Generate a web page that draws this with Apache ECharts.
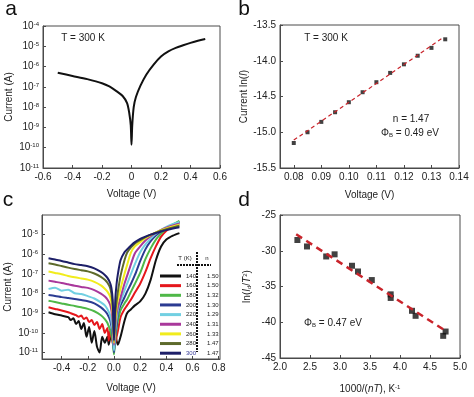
<!DOCTYPE html>
<html>
<head>
<meta charset="utf-8">
<script src="https://cdn.jsdelivr.net/npm/echarts@6/dist/echarts.min.js"></script>
<style>
html, body { margin: 0; padding: 0; background: #fff; }
#box { width: 474px; height: 397px; }
</style>
</head>
<body>
<div id="box"></div>
<script>
// a: I-V at 300 K (current as log10 of A)
const voltA = [-0.5, -0.4, -0.3, -0.2, -0.15, -0.1, -0.06, -0.03, -0.015, -0.005, 0, 0.005, 0.015, 0.03, 0.06, 0.1, 0.15, 0.2, 0.25, 0.3, 0.35, 0.4, 0.45, 0.5]
const logCurrentA = [-6.3, -6.46, -6.62, -6.82, -6.98, -7.22, -7.45, -7.8, -8.3, -8.9, -9.85, -8.9, -8.0, -7.5, -6.95, -6.4, -5.9, -5.5, -5.25, -5.08, -4.95, -4.83, -4.73, -4.64]
const decadesA = [1e-11, 1e-10, 1e-9, 1e-8, 1e-7, 1e-6, 1e-5, 1e-4]

// b: ln(I) vs V, with linear fit
const voltB = [0.08, 0.085, 0.09, 0.095, 0.1, 0.105, 0.11, 0.115, 0.12, 0.125, 0.13, 0.135]
const lnCurrentB = [-15.15, -15.0, -14.855, -14.72, -14.58, -14.44, -14.3, -14.17, -14.05, -13.93, -13.82, -13.7]
const fitB = [[0.08, -15.11], [0.1345, -13.67]]
const ticksXB = [0.08, 0.09, 0.1, 0.11, 0.12, 0.13, 0.14]

// c: I-V at different temperatures
const temps = ['140', '160', '180', '200', '220', '240', '260', '280', '300']
const idealityN = ['1.50', '1.50', '1.32', '1.30', '1.29', '1.31', '1.33', '1.47', '1.47']
const colorsC = ['#111111', '#e5171c', '#4fb848', '#2b3b92', '#72d0e2', '#a9389b', '#f1ec1c', '#5d6a2b', '#1d1f68']
const voltC = [-0.5, -0.45, -0.4, -0.35, -0.3, -0.25, -0.2, -0.15, -0.1, -0.07, -0.05, -0.03, -0.02, -0.01, 0,
  0.01, 0.02, 0.03, 0.05, 0.08, 0.1, 0.13, 0.16, 0.2, 0.24, 0.28, 0.32, 0.36, 0.4, 0.45, 0.5]
const voltNoisy = [-0.5, -0.45, -0.4, -0.35, -0.33, -0.31, -0.29, -0.27, -0.25, -0.23, -0.21, -0.19, -0.17, -0.15, -0.13, -0.11, -0.09, -0.07, -0.05, -0.04, -0.03, -0.02, -0.01, 0,
  0.01, 0.02, 0.03, 0.05, 0.08, 0.1, 0.13, 0.16, 0.2, 0.24, 0.28, 0.32, 0.36, 0.4, 0.45, 0.5]
const log140 = [-8.95, -9.05, -9.12, -9.2, -9.35, -9.25, -9.55, -9.4, -9.8, -9.5, -10.2, -9.7, -10.5, -9.9, -10.7, -11.0, -10.2, -10.5, -10.2, -10.6, -10.3, -10.1, -10.3, -10.1,
  -10.1, -10.4, -10.6, -10.2, -9.4, -9.0, -8.8, -8.6, -8.4, -8.0, -7.3, -6.3, -5.6, -5.25, -5.05, -4.92]
const log160 = [-8.7, -8.78, -8.86, -8.95, -9.0, -9.05, -9.1, -9.18, -9.12, -9.3, -9.22, -9.45, -9.35, -9.6, -9.45, -9.8, -9.55, -10.0, -9.75, -10.4, -9.9, -10.2, -10.5, -10.7,
  -10.5, -10.2, -9.9, -9.2, -8.8, -8.6, -8.3, -7.95, -7.5, -6.9, -6.2, -5.6, -5.1, -4.8, -4.55, -4.35]
const log180 = [-8.36, -8.43, -8.5, -8.57, -8.63, -8.7, -8.78, -8.9, -9.1, -9.3, -9.5, -9.85, -10.1, -10.4, -11.1,
  -10.3, -9.8, -9.4, -8.85, -8.5, -8.3, -7.9, -7.5, -6.95, -6.25, -5.7, -5.25, -4.95, -4.7, -4.48, -4.3]
const log200 = [-8.07, -8.12, -8.18, -8.23, -8.28, -8.33, -8.39, -8.5, -8.7, -8.88, -9.05, -9.35, -9.65, -10.1, -11.0,
  -10.1, -9.6, -9.0, -8.6, -8.2, -7.9, -7.5, -7.05, -6.35, -5.75, -5.33, -5.05, -4.82, -4.65, -4.5, -4.38]
const log220 = [-7.76, -7.7, -7.85, -7.8, -7.98, -8.02, -8.13, -8.25, -8.45, -8.6, -8.8, -9.1, -9.4, -9.9, -10.9,
  -9.9, -9.3, -8.85, -8.4, -7.85, -7.5, -7.0, -6.5, -5.9, -5.5, -5.2, -4.95, -4.75, -4.6, -4.46, -4.35]
const log240 = [-7.34, -7.4, -7.46, -7.53, -7.6, -7.66, -7.71, -7.82, -8.0, -8.15, -8.3, -8.55, -8.85, -9.4, -10.6,
  -9.6, -9.0, -8.7, -8.2, -7.5, -7.1, -6.5, -5.95, -5.6, -5.3, -5.08, -4.9, -4.76, -4.65, -4.53, -4.45]
const log260 = [-6.88, -6.95, -7.02, -7.1, -7.17, -7.23, -7.29, -7.4, -7.58, -7.75, -7.9, -8.15, -8.45, -9.0, -10.5,
  -9.4, -8.7, -8.3, -7.75, -7.0, -6.55, -5.9, -5.6, -5.38, -5.18, -5.02, -4.88, -4.77, -4.68, -4.58, -4.5]
const log280 = [-6.46, -6.52, -6.6, -6.68, -6.75, -6.81, -6.87, -6.98, -7.15, -7.3, -7.45, -7.7, -8.0, -8.6, -10.3,
  -9.0, -8.4, -7.9, -7.1, -6.3, -5.92, -5.65, -5.45, -5.28, -5.13, -5.0, -4.9, -4.8, -4.72, -4.63, -4.55]
const log300 = [-6.2, -6.27, -6.34, -6.42, -6.5, -6.55, -6.61, -6.72, -6.9, -7.05, -7.2, -7.45, -7.7, -8.3, -10.4,
  -8.3, -7.5, -7.0, -6.3, -5.9, -5.75, -5.55, -5.38, -5.22, -5.1, -5.0, -4.92, -4.84, -4.77, -4.69, -4.62]
const curvesC = [[voltNoisy, log140], [voltNoisy, log160], [voltC, log180], [voltC, log200], [voltC, log220],
  [voltC, log240], [voltC, log260], [voltC, log280], [voltC, log300]]
const decadesC = [1e-11, 1e-10, 1e-9, 1e-8, 1e-7, 1e-6, 1e-5]
const ticksXC = [-0.4, -0.2, 0, 0.2, 0.4, 0.6, 0.8]

// d: Richardson plot
const invNT = [2.29, 2.45, 2.77, 2.91, 3.2, 3.3, 3.53, 3.845, 3.845, 4.2, 4.26, 4.72, 4.76]
const lnIT2 = [-28.5, -29.4, -30.8, -30.5, -32.1, -32.9, -34.1, -36.1, -36.6, -38.4, -39.1, -41.9, -41.3]
const fitD = [[2.27, -27.7], [4.74, -41.1]]

const chart = echarts.init(document.getElementById('box'))

const font = 'Liberation Sans'
const frame = '#4a4a4a'
const ink = '#222'
const fitRed = '#c9242b'

const supRich = { s: { fontSize: 6, fontFamily: font, color: ink, verticalAlign: 'top', padding: [0, 0, 4, 0] } }
const nameRich = {
  i: { fontSize: 10, fontFamily: font, color: ink, fontStyle: 'italic' },
  sub: { fontSize: 6, fontFamily: font, color: ink, verticalAlign: 'bottom' },
  sup: { fontSize: 6, fontFamily: font, color: ink, verticalAlign: 'top', padding: [0, 0, 4, 0] },
  s: { fontSize: 6, fontFamily: font, color: ink, verticalAlign: 'top', padding: [0, 0, 4, 0] }
}

function pow10(v) { return Math.round(Math.log10(v)) }

function axis(extra) {
  return Object.assign({
    type: 'value',
    nameLocation: 'middle',
    nameTextStyle: { fontFamily: font, fontSize: 10, color: ink, rich: nameRich },
    axisLine: { onZero: false, lineStyle: { color: frame, width: 1 } },
    axisTick: { inside: true, length: 3, lineStyle: { color: frame } },
    splitLine: { show: false }
  }, extra)
}

function label(extra) {
  return Object.assign({ fontFamily: font, fontSize: 10, color: ink, margin: 4, rich: supRich }, extra)
}

const grid = (left, top, width, height) => ({ left, top, width, height, show: true, borderColor: frame, borderWidth: 1 })

const series = [
  {
    type: 'line', xAxisIndex: 0, yAxisIndex: 0, symbol: 'none', smooth: 0.3,
    lineStyle: { color: '#111', width: 2 },
    data: voltA.map((v, i) => [v, Math.pow(10, logCurrentA[i])])
  },
  {
    type: 'line', xAxisIndex: 1, yAxisIndex: 1, symbol: 'none',
    lineStyle: { color: fitRed, width: 1.2, type: [4, 3] },
    data: fitB
  },
  {
    type: 'scatter', xAxisIndex: 1, yAxisIndex: 1, symbol: 'rect', symbolSize: 4,
    itemStyle: { color: '#111' },
    data: voltB.map((v, i) => [v, lnCurrentB[i]])
  },
  {
    type: 'scatter', xAxisIndex: 3, yAxisIndex: 3, symbol: 'rect', symbolSize: 6,
    itemStyle: { color: '#111' },
    data: invNT.map((v, i) => [v, lnIT2[i]])
  },
  {
    type: 'line', xAxisIndex: 3, yAxisIndex: 3, symbol: 'none',
    lineStyle: { color: fitRed, width: 2.5, type: [7, 5] },
    data: fitD
  }
]

curvesC.forEach(([volts, logs], k) => {
  series.push({
    name: temps[k], type: 'line', xAxisIndex: 2, yAxisIndex: 2, symbol: 'none', smooth: 0.25,
    color: colorsC[k],
    lineStyle: { color: colorsC[k], width: 2 },
    data: volts.map((v, i) => [v, Math.pow(10, logs[i])])
  })
})

const dashed = { stroke: '#111', lineWidth: 2, lineDash: [2, 1] }

chart.setOption({
  animation: false,
  textStyle: { fontFamily: font },
  grid: [grid(43, 26, 177, 142), grid(280, 25, 179, 143), grid(42, 215, 178, 144), grid(280, 215, 180, 143)],
  xAxis: [
    axis({ gridIndex: 0, min: -0.6, max: 0.6, interval: 0.2, name: 'Voltage (V)', nameGap: 21, axisLabel: label() }),
    axis({
      gridIndex: 1, min: 0.075, max: 0.14, name: 'Voltage (V)', nameGap: 22,
      axisLabel: label({ customValues: ticksXB, formatter: v => v.toFixed(2) }),
      axisTick: { inside: true, length: 3, lineStyle: { color: frame }, customValues: ticksXB }
    }),
    axis({
      gridIndex: 2, min: -0.55, max: 0.81, name: 'Voltage (V)', nameGap: 24,
      axisLabel: label({ customValues: ticksXC, formatter: v => v.toFixed(1) }),
      axisTick: { inside: true, length: 3, lineStyle: { color: frame }, customValues: ticksXC }
    }),
    axis({ gridIndex: 3, min: 2, max: 5, interval: 0.5, name: '1000/({i|nT}), K{s|-1}', nameGap: 26, axisLabel: label({ formatter: v => v.toFixed(1) }) })
  ],
  yAxis: [
    axis({
      gridIndex: 0, type: 'log', logBase: 10, min: 1e-11, max: 1e-4, name: 'Current (A)', nameGap: 29,
      axisLabel: label({ customValues: decadesA, formatter: v => '10{s|' + pow10(v) + '}' }),
      axisTick: { inside: true, length: 3, lineStyle: { color: frame }, customValues: decadesA }
    }),
    axis({ gridIndex: 1, min: -15.5, max: -13.5, interval: 0.5, name: 'Current ln({i|I})', nameGap: 30, axisLabel: label({ formatter: v => v.toFixed(1) }) }),
    axis({
      gridIndex: 2, type: 'log', logBase: 10, min: Math.pow(10, -11.33), max: 1e-4, name: 'Current (A)', nameGap: 29,
      axisLabel: label({ customValues: decadesC, formatter: v => '10{s|' + pow10(v) + '}' }),
      axisTick: { inside: true, length: 3, lineStyle: { color: frame }, customValues: decadesC }
    }),
    axis({ gridIndex: 3, min: -45, max: -25, interval: 5, name: 'ln({i|I}{sub|d}/{i|T}{sup|2})', nameGap: 28, axisLabel: label() })
  ],
  legend: {
    data: temps.map((t, k) => ({ name: t, textStyle: { color: k === 8 ? '#3a3d9a' : ink } })),
    orient: 'vertical', left: 155, top: 267.5, itemWidth: 21, itemHeight: 3, itemGap: 2.65,
    icon: 'rect', selectedMode: false,
    formatter: name => '{t|' + name + '}{n|' + idealityN[temps.indexOf(name)] + '}',
    textStyle: {
      fontFamily: font, fontSize: 6, lineHeight: 7, color: ink,
      rich: { t: { width: 21, fontSize: 6, lineHeight: 7 }, n: { fontSize: 6, lineHeight: 7, color: ink } }
    }
  },
  graphic: [
    { type: 'text', style: { text: 'a', x: 11, y: 9, font: '21px Liberation Sans', fill: '#111', align: 'center', verticalAlign: 'middle' } },
    { type: 'text', style: { text: 'b', x: 244, y: 9, font: '21px Liberation Sans', fill: '#111', align: 'center', verticalAlign: 'middle' } },
    { type: 'text', style: { text: 'c', x: 8, y: 200, font: '21px Liberation Sans', fill: '#111', align: 'center', verticalAlign: 'middle' } },
    { type: 'text', style: { text: 'd', x: 244, y: 200, font: '21px Liberation Sans', fill: '#111', align: 'center', verticalAlign: 'middle' } },
    { type: 'text', style: { text: 'T = 300 K', x: 83, y: 38, font: '10px Liberation Sans', fill: ink, align: 'center', verticalAlign: 'middle' } },
    { type: 'text', style: { text: 'T = 300 K', x: 326, y: 38, font: '10px Liberation Sans', fill: ink, align: 'center', verticalAlign: 'middle' } },
    { type: 'text', style: { text: 'n = 1.47', x: 411, y: 119, font: '10px Liberation Sans', fill: ink, align: 'center', verticalAlign: 'middle' } },
    {
      type: 'text', style: {
        text: 'Φ{sub|B} = 0.49 eV', x: 410, y: 133, font: '10px Liberation Sans', fill: ink, align: 'center', verticalAlign: 'middle',
        rich: { sub: { fontSize: 6, verticalAlign: 'bottom', fill: ink } }
      }
    },
    {
      type: 'text', style: {
        text: 'Φ{sub|B} = 0.47 eV', x: 333, y: 323, font: '10px Liberation Sans', fill: ink, align: 'center', verticalAlign: 'middle',
        rich: { sub: { fontSize: 6, verticalAlign: 'bottom', fill: ink } }
      }
    },
    { type: 'text', style: { text: 'T (K)', x: 185, y: 258, font: '6px Liberation Sans', fill: ink, align: 'center', verticalAlign: 'middle' } },
    { type: 'text', style: { text: 'n', x: 207, y: 258, font: '6px Liberation Sans', fill: ink, align: 'center', verticalAlign: 'middle' } },
    { type: 'line', shape: { x1: 177, y1: 265, x2: 211, y2: 265 }, style: dashed },
    { type: 'line', shape: { x1: 197, y1: 252, x2: 197, y2: 352 }, style: dashed }
  ],
  series
})
</script>
</body>
</html>
